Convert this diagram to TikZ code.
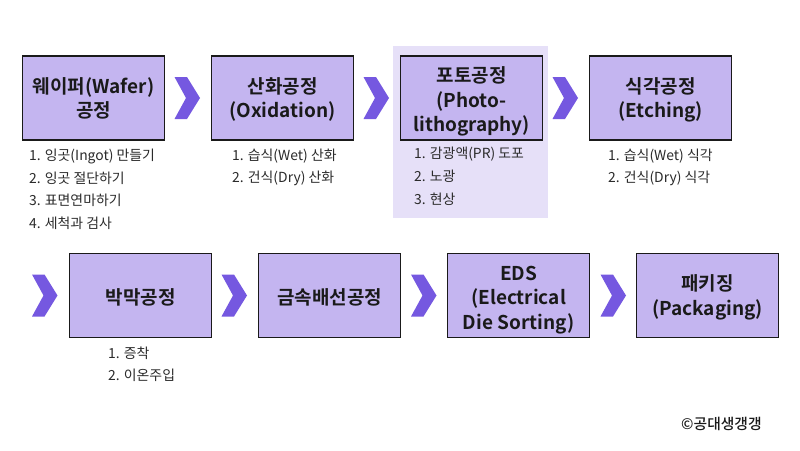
\documentclass[tikz,border=0pt]{standalone}
\usepackage{fontspec}
\setmainfont{Noto Sans CJK KR}[BoldFont={Noto Sans CJK KR Bold}]
\newfontfamily\creditfont{Noto Sans CJK KR Medium}
\newcommand\lineA{\rule{0pt}{21.5pt}}
\newcommand\lineB{\rule{0pt}{25pt}}
\newcommand\lineC{\rule{0pt}{24pt}}
\newcommand\lineZ{\rule[-6.5pt]{0pt}{1pt}}
\definecolor{boxfill}{HTML}{C4B5F0}
\definecolor{chev}{HTML}{7558E0}
\definecolor{hilite}{HTML}{E6E0F8}
\definecolor{ink}{HTML}{1A1A1A}
\definecolor{listink}{HTML}{2B2B2B}
\tikzset{
  stagebox/.style={draw=ink,line width=1.6pt,fill=boxfill,minimum width=142pt,minimum height=84pt,inner sep=0pt,align=center,
    text=ink,font=\fontsize{19}{24.5}\selectfont\bfseries,anchor=north west},
  listing/.style={anchor=west,inner sep=0pt,text=listink,font=\fontsize{13.9}{15}\selectfont},
  chevron/.pic={\fill[chev] (0,0)--(12.5,0)--(25.5,21)--(12.5,42)--(0,42)--(11.5,21)--cycle;}
}
\begin{document}
\begin{tikzpicture}[x=1pt,y=-1pt]
\useasboundingbox (0,0) rectangle (800,450);
\fill[white] (0,0) rectangle (800,450);
\fill[hilite] (393,46) rectangle (548,218);
\node[stagebox] (n1) at (21.8,55) {\lineA 웨이퍼(Wafer)\\공정\lineZ};
\node[stagebox] (n2) at (210.8,55) {\lineA 산화공정\\(Oxidation)\lineZ};
\node[stagebox] (n3) at (399.8,55) {\lineB 포토공정\\(Photo-\\lithography)\lineZ};
\node[stagebox] (n4) at (588.8,55) {\lineA 식각공정\\(Etching)\lineZ};
\node[stagebox] (n5) at (68.8,252.5) {\lineC 박막공정\lineZ};
\node[stagebox] (n6) at (257.8,252.5) {\lineC 금속배선공정\lineZ};
\node[stagebox] (n7) at (446.8,252.5) {\lineB EDS\\(Electrical\\Die Sorting)\lineZ};
\node[stagebox] (n8) at (635.8,252.5) {\lineA 패키징\\(Packaging)\lineZ};
\pic at (174.5,77) {chevron};
\pic at (363.5,77) {chevron};
\pic at (552.5,77) {chevron};
\pic at (32,274.5) {chevron};
\pic at (221.5,274.5) {chevron};
\pic at (411,274.5) {chevron};
\pic at (600.5,274.5) {chevron};
\node[listing] (a1) at (29,156.5) {1. 잉곳(Ingot) 만들기};
\node[listing] (a2) at (29,178.5) {2. 잉곳 절단하기};
\node[listing] (a3) at (29,200.5) {3. 표면연마하기};
\node[listing] (a4) at (29,223.5) {4. 세척과 검사};
\node[listing] (b1) at (232,156.5) {1. 습식(Wet) 산화};
\node[listing] (b2) at (232,178.5) {2. 건식(Dry) 산화};
\node[listing] (c1) at (414,154.5) {1. 감광액(PR) 도포};
\node[listing] (c2) at (414,176.5) {2. 노광};
\node[listing] (c3) at (414,199.5) {3. 현상};
\node[listing] (d1) at (608,156.5) {1. 습식(Wet) 식각};
\node[listing] (d2) at (608,178.5) {2. 건식(Dry) 식각};
\node[listing] (e1) at (108,353.5) {1. 증착};
\node[listing] (e2) at (108,375.5) {2. 이온주입};
\node[anchor=west,inner sep=0pt,text=ink,font=\fontsize{14.8}{15}\creditfont] (credit) at (681,424) {©공대생갱갱};
\end{tikzpicture}
\end{document}
